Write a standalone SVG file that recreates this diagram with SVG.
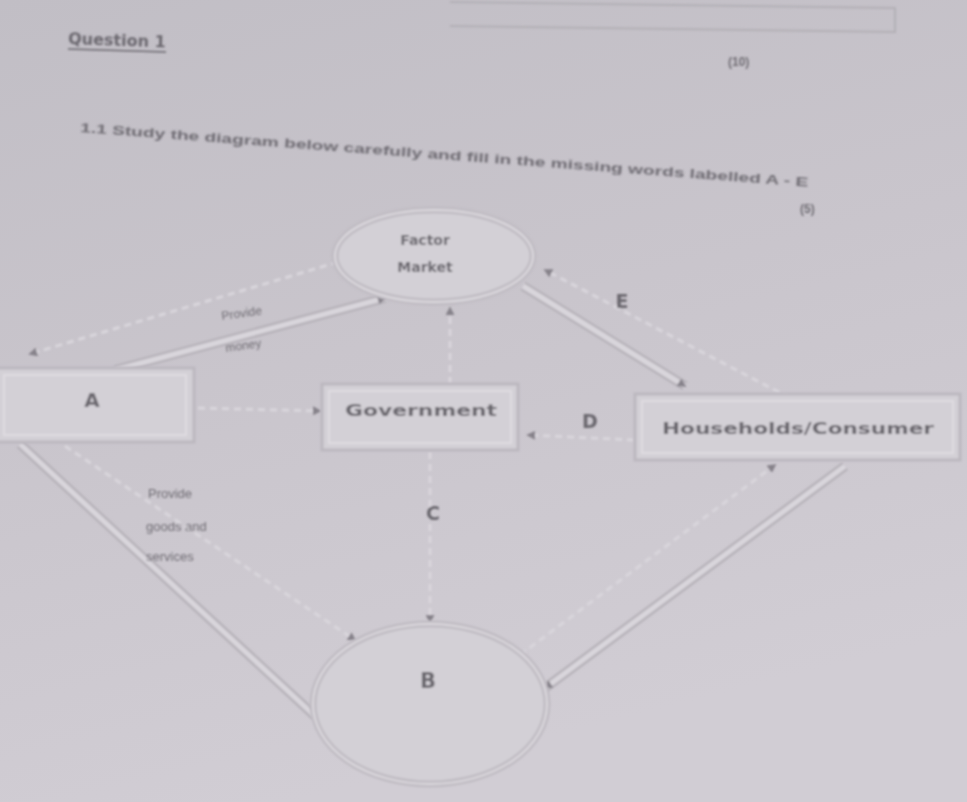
<svg xmlns="http://www.w3.org/2000/svg" width="967" height="802" viewBox="0 0 967 802">
<defs>
<linearGradient id="bg" x1="0" y1="0" x2="0.3" y2="1">
<stop offset="0" stop-color="#c1bec5"/>
<stop offset="0.5" stop-color="#c9c5cc"/>
<stop offset="1" stop-color="#d1cdd4"/>
</linearGradient>
<marker id="ah" viewBox="0 0 10 10" refX="8" refY="5" markerWidth="9" markerHeight="9" markerUnits="userSpaceOnUse" orient="auto">
<path d="M0,0 L10,5 L0,10 z" fill="#86828a"/>
</marker>
<filter id="soft" x="-5%" y="-5%" width="110%" height="110%"><feGaussianBlur stdDeviation="0.9"/></filter>
</defs>
<style>
.t{font-family:"DejaVu Sans","Liberation Sans",sans-serif;fill:#6a676e;font-weight:bold}
.s{font-family:"Liberation Sans",sans-serif;fill:#6f6c73}
.box{fill:#d3d0d6;stroke:#bcb8bf;stroke-width:3}
.inner{fill:none;stroke:#dfdce1;stroke-width:2}
.band{fill:none;stroke:#b7b3ba;stroke-width:10;stroke-linecap:butt}
.bandin{fill:none;stroke:#d9d6dc;stroke-width:5}
.dash{fill:none;stroke:#d9d6dc;stroke-width:3;stroke-dasharray:7 5}
</style>
<rect width="967" height="802" fill="url(#bg)"/>
<g id="page" filter="url(#soft)">
<path d="M450,2 L895,8 L895,32 L450,26" fill="none" stroke="#b3b0b6" stroke-width="2"/>
<text class="t" x="68" y="44" font-size="16" transform="rotate(2 68 44)">Question 1</text>
<line x1="68" y1="49" x2="166" y2="52" stroke="#6a676e" stroke-width="1.5"/>
<text class="s" x="728" y="66" font-size="12" font-weight="bold">(10)</text>
<text class="s" x="80" y="132" font-size="13" font-weight="bold" textLength="730" lengthAdjust="spacingAndGlyphs" transform="rotate(4.3 80 132)">1.1 Study the diagram below carefully and fill in the missing words labelled A - E</text>
<text class="s" x="800" y="213" font-size="12" font-weight="bold">(5)</text>
</g>
<g id="connectors" filter="url(#soft)">
<line class="dash" x1="338" y1="262" x2="30" y2="354" marker-end="url(#ah)"/>
<line class="band" x1="115" y1="370" x2="385" y2="298"/>
<line class="bandin" x1="115" y1="370" x2="385" y2="298" marker-end="url(#ah)"/>
<line class="dash" x1="450" y1="384" x2="450" y2="308" marker-end="url(#ah)"/>
<line class="band" x1="523" y1="286" x2="685" y2="386"/>
<line class="bandin" x1="523" y1="286" x2="685" y2="386" marker-end="url(#ah)"/>
<line class="dash" x1="790" y1="398" x2="545" y2="270" marker-end="url(#ah)"/>
<line class="dash" x1="198" y1="408" x2="320" y2="411" marker-end="url(#ah)"/>
<line class="dash" x1="634" y1="440" x2="528" y2="435" marker-end="url(#ah)"/>
<line class="dash" x1="430" y1="452" x2="430" y2="622" marker-end="url(#ah)"/>
<line class="band" x1="20" y1="444" x2="315" y2="716"/>
<line class="bandin" x1="20" y1="444" x2="315" y2="716"/>
<line class="dash" x1="65" y1="446" x2="355" y2="640" marker-end="url(#ah)"/>
<line class="dash" x1="520" y1="655" x2="775" y2="465" marker-end="url(#ah)"/>
<line class="band" x1="845" y1="466" x2="545" y2="688"/>
<line class="bandin" x1="845" y1="466" x2="545" y2="688" marker-end="url(#ah)"/>
<text class="s" x="222" y="320" font-size="12" transform="rotate(-8 222 320)">Provide</text>
<text class="s" x="226" y="352" font-size="12" transform="rotate(-8 226 352)">money</text>
<text class="s" x="148" y="498" font-size="13">Provide</text>
<text class="s" x="146" y="531" font-size="13">goods and</text>
<text class="s" x="146" y="561" font-size="13">services</text>
<text class="t" x="433" y="520" font-size="19" text-anchor="middle">C</text>
<text class="t" x="590" y="428" font-size="19" text-anchor="middle">D</text>
<text class="t" x="622" y="308" font-size="19" text-anchor="middle">E</text>
</g>
<g id="factor-market" filter="url(#soft)">
<ellipse cx="434" cy="256" rx="99" ry="46" fill="#d3d0d6" stroke="#c0bcc3" stroke-width="7"/>
<ellipse cx="434" cy="256" rx="99" ry="46" fill="none" stroke="#dcd9de" stroke-width="2"/>
<text class="t" x="425" y="245" font-size="14" text-anchor="middle">Factor</text>
<text class="t" x="425" y="272" font-size="14" text-anchor="middle">Market</text>
</g>
<g id="node-a" filter="url(#soft)">
<rect class="box" x="-4" y="368" width="198" height="74"/>
<rect class="inner" x="4" y="375" width="182" height="60"/>
<text class="t" x="92" y="407" font-size="20" text-anchor="middle">A</text>
</g>
<g id="government" filter="url(#soft)">
<rect class="box" x="322" y="384" width="196" height="66"/>
<rect class="inner" x="329" y="391" width="182" height="52"/>
<text class="t" x="421" y="416" font-size="15" text-anchor="middle" textLength="152" lengthAdjust="spacingAndGlyphs">Government</text>
</g>
<g id="households" filter="url(#soft)">
<rect class="box" x="635" y="394" width="325" height="66"/>
<rect class="inner" x="642" y="401" width="311" height="52"/>
<text class="t" x="662" y="434" font-size="15" textLength="272" lengthAdjust="spacingAndGlyphs">Households/Consumer</text>
</g>
<g id="node-b" filter="url(#soft)">
<ellipse cx="430" cy="704" rx="117" ry="80" fill="#d3d0d6" stroke="#c0bcc3" stroke-width="7"/>
<ellipse cx="430" cy="704" rx="117" ry="80" fill="none" stroke="#dcd9de" stroke-width="2"/>
<text class="t" x="428" y="688" font-size="21" text-anchor="middle">B</text>
</g>
</svg>
